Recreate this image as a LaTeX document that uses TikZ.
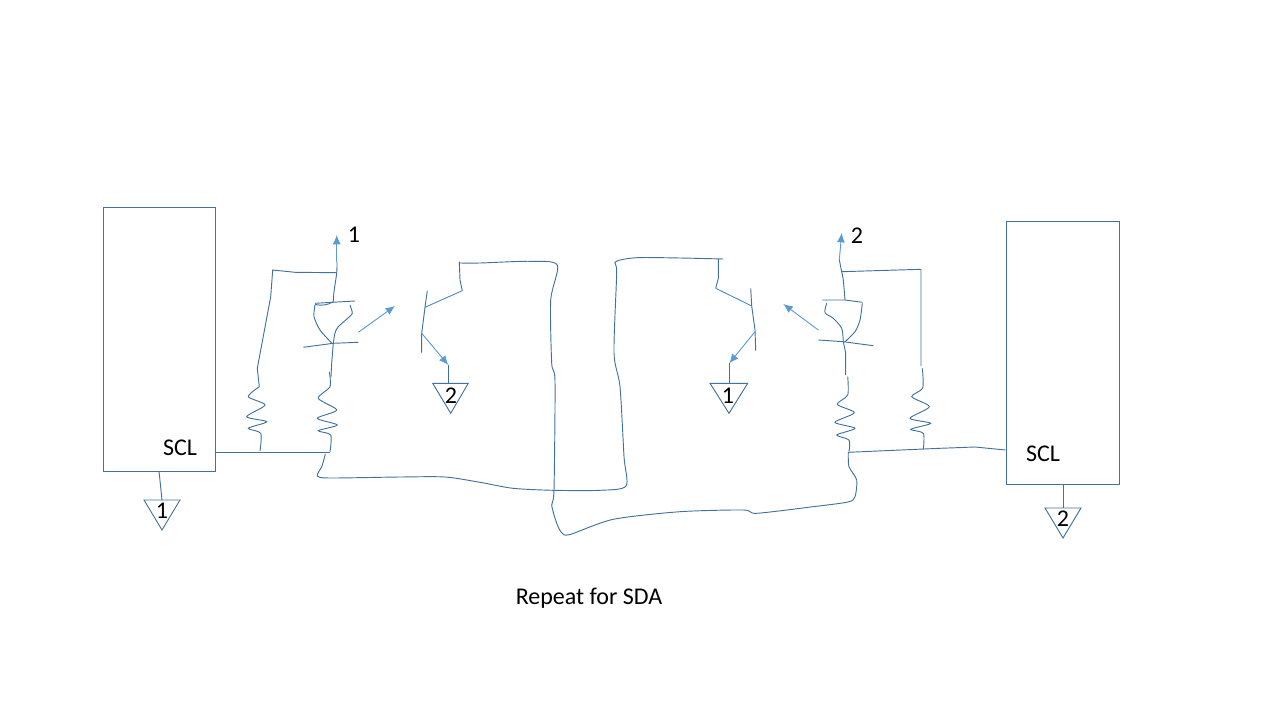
\documentclass[tikz,border=0pt]{standalone}
\usepackage{fontspec}
\setmainfont{Carlito}
\usetikzlibrary{arrows.meta}
\definecolor{wireblue}{HTML}{41719C}
\definecolor{tipblue}{HTML}{5B9BD5}
\tikzset{every picture/.style={line width=0.75pt}}
\tikzset{wire/.style={draw=wireblue,line width=0.7pt},
	thinwire/.style={draw=tipblue!60!wireblue,line width=0.7pt},
	freewire/.style={wire,smooth,tension=0.45},
	tipwire/.style={draw=tipblue,line width=0.7pt,-{Latex[length=7pt,width=6pt]}},
	chipbox/.style={draw=wireblue,line width=0.7pt,rectangle,inner sep=0pt},
	label/.style={inner sep=0.75pt,font=\fontsize{18}{22}\selectfont}}

\begin{document}
\begin{tikzpicture}[x=0.75pt,y=0.75pt,yscale=-1,xscale=1]
	\useasboundingbox (0,0) rectangle (1280,720);
	
	%Shape: Rectangle
	\node [chipbox,minimum width=84pt,minimum height=198pt] (chipleft) at (159,339) {};
	\node [chipbox,minimum width=84.75pt,minimum height=197.25pt] (chipright) at (1062.5,352.5) {};
	
	%Ground Triangles
	\draw [wire]  (144,500) -- (180,500) -- (162,530) -- cycle ;
	\draw [wire]  (1045,508) -- (1081,508) -- (1063,538) -- cycle ;
	\draw [wire]  (432.7,383.3) -- (468.3,383.3) -- (450.7,413.3) -- cycle ;
	\draw [wire]  (710,383.3) -- (747.7,383.3) -- (729,413.3) -- cycle ;
	\draw [wire]    (159,471) -- (162,500) ;
	\draw [wire]    (1063,484) -- (1063,508) ;
	
	%Left Side Pull Up
	\draw [tipwire]    (336.7,262) -- (336.7,235) ;
	\draw [freewire] plot coordinates {(337,262) (336.7,273) (334,291.7) (333.3,301.7)};
	\draw [wire]    (336.7,272.7) -- (295,272.3) -- (272.7,270) -- (270.7,296.7) -- (257.3,368.3) -- (259.3,386.7) ;
	\draw [freewire] plot coordinates {(259.3,386.7) (248.3,396.7) (265,405) (246.7,416.7) (266.7,421.7) (248.3,428.3) (260.7,433.3) (260,451)};
	
	%Left Side Isolator
	\draw [wire]    (315,303.3) -- (355,301) ;
	\draw [wire]    (315,304.5) .. controls (322,306) and (328,305) .. (333.3,301.7) ;
	\draw [freewire] plot coordinates {(315,305) (314,316.7) (320,330) (331.7,343)};
	\draw [freewire] plot coordinates {(350,305) (352.3,313.3) (348,318) (338,327) (335,333) (333.3,343)};
	\draw [wire]    (303.3,347.3) -- (333.3,343.3) -- (358.3,342.3) ;
	\draw [wire]    (333.3,343) -- (331.7,363) -- (331,377) ;
	\draw [freewire] plot coordinates {(329.3,371.7) (330,386.7) (318.3,398.3) (336.7,410) (317.3,418.3) (337.3,425) (318.3,430.7) (330.7,435) (330,451.7)};
	\draw [tipwire]    (358.3,332.3) -- (395,306) ;
	
	%Left Side Transistor
	\draw [wire]    (427.3,290.7) -- (425,307.3) -- (421.7,333.3) -- (421.7,352.7) ;
	\draw [thinwire]    (425,307.3) -- (462.3,290.7) ;
	\draw [wire]    (462.3,290.7) -- (460,280) -- (459.3,261.7) ;
	\draw [tipwire]    (421.7,333.3) -- (448.3,365) ;
	\draw [wire]    (448.3,365) -- (448.3,383) ;
	
	%Right Side Pull Up
	\draw [freewire] plot coordinates {(845,300) (843.3,280) (841.7,271.7) (839.3,260)};
	\draw [tipwire]    (839.3,260) -- (841.7,233) ;
	\draw [wire]    (841.7,271.7) -- (921,269.3) -- (921,366) ;
	\draw [freewire] plot coordinates {(922.3,368.3) (922.7,388) (911.7,396.7) (929.3,406.7) (910,418.3) (930.7,423.3) (910.7,429.3) (923.3,433.3) (923.3,449.3)};
	
	%Right Side Isolator
	\draw [wire]    (822.3,300) -- (845,300) -- (862.3,302.3) ;
	\draw [freewire] plot coordinates {(826.7,303.3) (825,312.7) (833.3,318.3) (841.7,328.3) (843.3,341.7)};
	\draw [freewire] plot coordinates {(862.3,303.3) (860,320) (855,331.7) (845,341.7)};
	\draw [wire]    (818.3,340) -- (843.3,341.7) -- (873.3,345.7) ;
	\draw [wire]    (843.3,341.7) -- (845.7,353.3) -- (845.7,375) ;
	\draw [freewire] plot coordinates {(847.7,376.7) (847.7,395) (837.3,404.3) (854.3,412.7) (835,422.3) (855,428.3) (836.7,435) (849,440) (849,451.7)};
	\draw [tipwire]    (818.3,330) -- (783.3,304) ;
	
	%Right Side Transistor
	\draw [wire]    (750.7,288.3) -- (751.7,306) -- (755,330) -- (755.7,350.7) ;
	\draw [thinwire]    (751.7,306) -- (715.7,288.3) ;
	\draw [wire]    (715.7,288.3) -- (718.3,278.3) -- (718.3,259) ;
	\draw [tipwire]    (755,331.7) -- (729.3,363.3) ;
	\draw [wire]    (729.3,363.3) -- (729.3,383) ;
	
	%Bus Lines
	\draw [wire]    (chipleft.east |- 0,452.5) -- (330,452.5) ;
	\draw [wire]    (848.3,452.3) -- (940,448.3) -- (975,447) -- (chipright.west |- 0,450) ;
	\draw [freewire] plot coordinates {(325.3,454) (322,466) (317.3,476) (330,478) (400,477) (445,477) (480,482.3) (513,488.3) (553,490.3) (600,490.3) (626,486) (624,456.7) (620,386.7) (614,353) (616.7,273) (615.7,261.7) (636.7,257.7) (680,258) (723.3,259)};
	\draw [freewire] plot coordinates {(460,263) (480,263) (530,261.3) (557.3,265) (550.7,300) (551.7,363.3) (555,381.7) (554,490) (551.7,505) (557,524) (562,533) (570,534.5) (613.3,519.3) (680,511.7) (743.3,510) (756.7,513.3) (813,506.7) (848,502) (855,496.7) (856.7,480) (849,466.7) (848.3,452)};
	
	% Text Node
	\node [label] (sclleft) at (180,447.5) {SCL};
	\node [label] (sclright) at (1043,453.5) {SCL};
	\node [label] (railone) at (354,235) {1};
	\node [label] (railtwo) at (857,236) {2};
	\node [label] (gndleft) at (162,511) {1};
	\node [label] (gndright) at (1063,519) {2};
	\node [label] (gndmidtwo) at (451,396) {2};
	\node [label] (gndmidone) at (728,396) {1};
	\node [label] (repeatnote) at (589,598.5) {Repeat for SDA};
	
\end{tikzpicture}
\end{document}
